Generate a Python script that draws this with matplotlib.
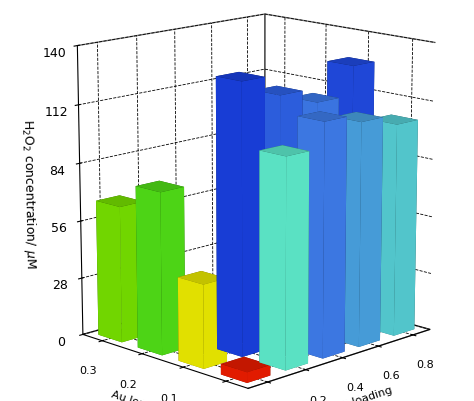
import numpy as np
import matplotlib
matplotlib.use("Agg")
import matplotlib.pyplot as plt
from matplotlib.colors import LinearSegmentedColormap

ag_loading = [0.0, 0.2, 0.4, 0.6, 0.8]
au_loading = [0.0, 0.1, 0.2, 0.3]
# bars: (ag index, au index, value)
bar_ag = [0, 0, 0, 0, 1, 2, 3, 4, 1, 2, 3, 4]
bar_au = [3, 2, 1, 0, 0, 0, 0, 0, 1, 1, 1, 1]
bar_val = [66, 78, 40, 5, 100, 112, 108, 103, 130, 120, 113, 127]

cmap = LinearSegmentedColormap.from_list("c", [(0, "#ff0000"), (40/135, "#ffff00"), (75/135, "#55ee00"),
                                               (100/135, "#66ffdd"), (112/135, "#4488ff"), (1, "#1133ee")])

fig = plt.figure(figsize=(4.74, 4.02), dpi=100)
ax = fig.add_axes([0.04, -0.02, 0.98, 1.06], projection="3d")
ax.set_box_aspect((1.1, 1.0, 1.25), zoom=1.05)
order = sorted(range(len(bar_val)), key=lambda i: -(bar_ag[i] + bar_au[i]))
for i in order:
    ax.bar3d(bar_ag[i] - 0.3, bar_au[i] - 0.3, 0, 0.6, 0.6, bar_val[i],
             color=cmap(bar_val[i] / 135), shade=True, edgecolor="none")
ax.set_xlim(-0.5, 4.5)
ax.set_ylim(-0.5, 3.5)
ax.set_zlim(0, 140)
ax.set_xticks(range(5))
ax.set_xticklabels([f"{v:.1f}" for v in ag_loading], fontsize=8)
ax.set_yticks(range(4))
ax.set_yticklabels([f"{v:.1f}" for v in au_loading], fontsize=8)
ax.set_zticks([0, 28, 56, 84, 112, 140])
ax.tick_params(axis="z", labelsize=9, pad=2)
ax.set_xlabel("Ag loading", fontsize=8, labelpad=-2)
ax.set_ylabel("Au loading", fontsize=8, labelpad=-2)
ax.set_zlabel(r"H$_2$O$_2$ concentration/ $\mu$M", fontsize=9, labelpad=2)
for a in (ax.xaxis, ax.yaxis, ax.zaxis):
    a.pane.fill = False
    a.pane.set_edgecolor("black")
    a._axinfo["grid"]["linestyle"] = "--"
    a._axinfo["grid"]["color"] = "black"
    a._axinfo["grid"]["linewidth"] = 0.6
ax.view_init(elev=14, azim=-135)
fig.savefig("out.png", dpi=100)
